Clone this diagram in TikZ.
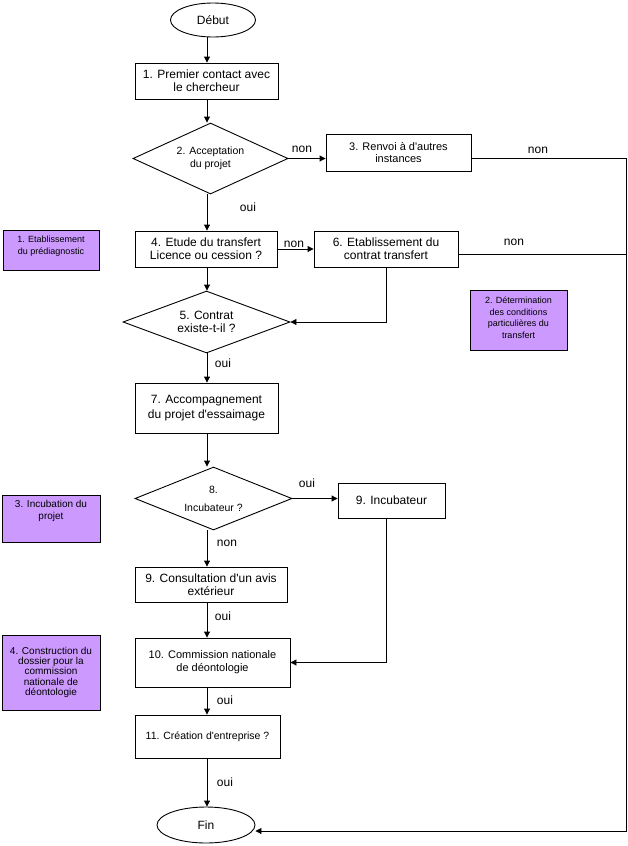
\documentclass[tikz,border=0pt]{standalone}
\usepackage{fontspec}
\setmainfont{Liberation Sans}
\usetikzlibrary{shapes.geometric,arrows.meta}
\definecolor{lilac}{RGB}{204,153,255}
\newcommand\fsz[2]{\fontsize{#1}{#2}\selectfont}
\newcommand\ap{\textquotesingle}
\begin{document}
\begin{tikzpicture}[x=1pt,y=-1pt,
  line/.style={line width=0.9pt},
  arr/.style={line, -{Triangle[length=6pt,width=6pt]}},
  box/.style={draw, line width=0.9pt, rectangle, inner sep=0, align=center, font=\fsz{12}{13}},
  dia/.style={draw, line width=0.9pt, diamond, inner sep=0, align=center, font=\fsz{12}{13}},
  term/.style={draw, line width=0.9pt, ellipse, inner sep=0, font=\fsz{12}{13}},
  pbox/.style={draw, line width=0.9pt, fill=lilac, rectangle, inner sep=0},
  plab/.style={anchor=north, inner sep=0, align=center},
  lab/.style={inner sep=0, font=\fsz{12}{13}}]
\useasboundingbox (0,0) rectangle (628,846);
\fill[white] (0,0) rectangle (628,846);

% column for main vertical connectors
\coordinate (col) at (207,0);
\coordinate (r1) at (626,158);
\coordinate (r2) at (626,254);
\coordinate (r3) at (626,831);

% main nodes
\node[term, minimum width=85, minimum height=34] (debut) at (213,20) {Début};
\node[box, minimum width=143, minimum height=36] (n1) at (206.5,81) {1. Premier contact avec\\le chercheur};
\node[dia, aspect=2.18, minimum width=155, minimum height=71, font=\fsz{10.5}{13}] (d2) at (210.5,158.5) {2. Acceptation\\du projet};
\node[box, minimum width=145, minimum height=37, font=\fsz{11}{12}] (n3) at (398.5,152.5) {3. Renvoi à d\ap autres\\instances};
\node[box, minimum width=142, minimum height=36] (n4) at (206,249) {4. Etude du transfert\\Licence ou cession ?};
\node[box, minimum width=144, minimum height=36] (n6) at (386,249) {6. Etablissement du\\contrat transfert};
\node[dia, aspect=2.7, minimum width=167, minimum height=62] (d5) at (206.5,322) {5. Contrat\\existe-t-il ?};
\node[box, minimum width=143, minimum height=50, font=\fsz{12}{15}] (n7) at (206.5,408) {7. Accompagnement\\du projet d\ap essaimage};
\node[dia, aspect=2.5, minimum width=157, minimum height=63, font=\fsz{10.5}{18}] (d8) at (213.5,498.5) {8.\\Incubateur ?};
\node[box, minimum width=107, minimum height=35] (n9i) at (391.5,500.5) {9. Incubateur};
\node[box, minimum width=152, minimum height=35] (n9c) at (211,584.5) {9. Consultation d\ap un avis\\extérieur};
\node[box, minimum width=155, minimum height=49, font=\fsz{11}{13}] (n10) at (212.5,662.5) {10. Commission nationale\\de déontologie};
\node[box, minimum width=145, minimum height=43, font=\fsz{10.5}{13}] (n11) at (207.5,736.5) {11. Création d\ap entreprise ?};
\node[term, minimum width=98, minimum height=36] (fin) at (206,825) {Fin};

% purple side notes
\node[pbox, minimum width=96, minimum height=40,
  label={[plab, font=\fsz{9}{12}, yshift=-6]north:{1. Etablissement\\du prédiagnostic}}] (p1) at (51,250) {};
\node[pbox, minimum width=97, minimum height=60,
  label={[plab, font=\fsz{9}{11.5}, yshift=-7.5]north:{2. Détermination\\des conditions\\particulières du\\transfert}}] (p2) at (518.5,320) {};
\node[pbox, minimum width=98, minimum height=47,
  label={[plab, font=\fsz{10}{12}, yshift=-5]north:{3. Incubation du\\projet}}] (p3) at (51,518.5) {};
\node[pbox, minimum width=98, minimum height=75,
  label={[plab, font=\fsz{10}{10.4}, yshift=-12]north:{4. Construction du\\dossier pour la\\commission\\nationale de\\déontologie}}] (p4) at (51,672.5) {};

% main column connectors
\draw[arr] (debut.south -| col) -- (n1.north -| col);
\draw[arr] (n1.south -| col) -- (d2.north -| col);
\draw[arr] (d2.south -| col) -- (n4.north -| col);
\draw[arr] (n4.south -| col) -- (d5.north -| col);
\draw[arr] (d5.south -| col) -- (n7.north -| col);
\draw[arr] (n7.south -| col) -- (d8.north -| col);
\draw[arr] (d8.south -| col) -- (n9c.north -| col);
\draw[arr] (n9c.south -| col) -- (n10.north -| col);
\draw[arr] (n10.south -| col) -- (n11.north -| col);
\draw[arr] (n11.south -| col) -- (fin.north -| col);

% side connectors
\draw[arr] (d2.east) -- (d2.east -| n3.west);
\draw[line] (n3.east |- r1) -- (r1);
\draw[arr] (r1) -- (r3) -- (fin.east |- r3);
\draw[arr] (n4.east) -- (n6.west);
\draw[line] (n6.east |- r2) -- (r2);
\draw[arr] (n6.south) |- (d5.east);
\draw[arr] (d8.east) -- (d8.east -| n9i.west);
\draw[arr] (n9i.south -| n6.south) |- (n10.east);

% connector labels
\node[lab] (l1) at (248,207) {oui};
\node[lab] (l2) at (302,149) {non};
\node[lab] (l3) at (538,150) {non};
\node[lab] (l4) at (294,244) {non};
\node[lab] (l5) at (514,242) {non};
\node[lab] (l6) at (223,363) {oui};
\node[lab] (l7) at (307,483) {oui};
\node[lab] (l8) at (227,543) {non};
\node[lab] (l9) at (223,616) {oui};
\node[lab] (l10) at (225,700) {oui};
\node[lab] (l11) at (225,782) {oui};
\end{tikzpicture}
\end{document}
